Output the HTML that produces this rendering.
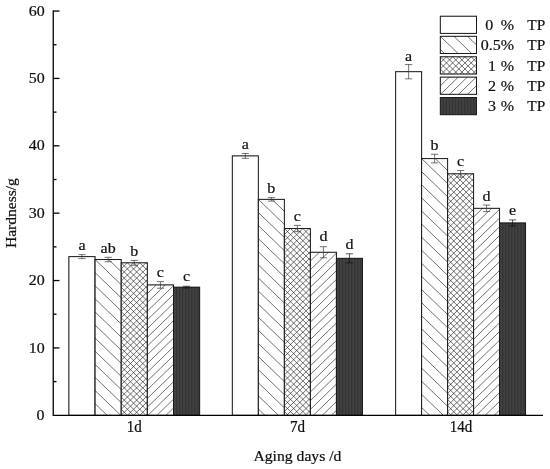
<!DOCTYPE html>
<html><head><meta charset="utf-8"><title>Hardness chart</title>
<style>html,body{margin:0;padding:0;background:#fff}svg{display:block}</style></head>
<body><svg width="550" height="469" viewBox="0 0 550 469">
<rect width="550" height="469" fill="#fff"/>
<g font-family="'Liberation Serif', serif" font-size="16" fill="#111" stroke="#111" stroke-width="0.22">
<rect x="68.90" y="256.63" width="26.15" height="158.67" fill="#fff"/>
<rect x="68.90" y="256.63" width="26.15" height="158.67" fill="none" stroke="#1a1a1a" stroke-width="1"/>
<path d="M81.98,254.61 V258.65 M78.38,254.61 H85.58 M78.38,258.65 H85.58" stroke="#3a3a3a" stroke-width="0.7" fill="none"/>
<text transform="translate(81.98,249.50) scale(1.04,1)" text-anchor="middle" font-size="15.4">a</text>
<rect x="95.05" y="259.53" width="26.15" height="155.77" fill="#fff"/>
<path d="M108.65,259.53L121.20,271.62M95.05,259.53L121.20,284.72M95.05,272.63L121.20,297.82M95.05,285.73L121.20,310.92M95.05,298.83L121.20,324.02M95.05,311.93L121.20,337.12M95.05,325.03L121.20,350.22M95.05,338.13L121.20,363.32M95.05,351.23L121.20,376.42M95.05,364.33L121.20,389.52M95.05,377.43L121.20,402.62M95.05,390.53L120.77,415.30M95.05,403.63L107.17,415.30" stroke="#222" stroke-width="0.65" fill="none"/>
<rect x="95.05" y="259.53" width="26.15" height="155.77" fill="none" stroke="#1a1a1a" stroke-width="1"/>
<path d="M108.13,257.31 V261.75 M104.53,257.31 H111.73 M104.53,261.75 H111.73" stroke="#3a3a3a" stroke-width="0.7" fill="none"/>
<text transform="translate(108.13,252.50) scale(1.04,1)" text-anchor="middle" font-size="15.4">ab</text>
<rect x="121.20" y="262.83" width="26.15" height="152.47" fill="#fff"/>
<path d="M145.92,262.83L147.35,264.24M139.74,262.83L147.35,270.34M133.56,262.83L147.35,276.44M127.38,262.83L147.35,282.54M121.20,262.83L147.35,288.64M121.20,268.93L147.35,294.74M121.20,275.03L147.35,300.84M121.20,281.13L147.35,306.94M121.20,287.23L147.35,313.04M121.20,293.33L147.35,319.14M121.20,299.43L147.35,325.24M121.20,305.53L147.35,331.34M121.20,311.63L147.35,337.44M121.20,317.73L147.35,343.54M121.20,323.83L147.35,349.64M121.20,329.93L147.35,355.74M121.20,336.03L147.35,361.84M121.20,342.13L147.35,367.94M121.20,348.23L147.35,374.04M121.20,354.33L147.35,380.14M121.20,360.43L147.35,386.24M121.20,366.53L147.35,392.34M121.20,372.63L147.35,398.44M121.20,378.73L147.35,404.54M121.20,384.83L147.35,410.64M121.20,390.93L145.89,415.30M121.20,397.03L139.71,415.30M121.20,403.13L133.53,415.30M121.20,409.23L127.35,415.30M121.20,268.93L127.38,262.83M121.20,275.03L133.56,262.83M121.20,281.13L139.74,262.83M121.20,287.23L145.92,262.83M121.20,293.33L147.35,267.52M121.20,299.43L147.35,273.62M121.20,305.53L147.35,279.72M121.20,311.63L147.35,285.82M121.20,317.73L147.35,291.92M121.20,323.83L147.35,298.02M121.20,329.93L147.35,304.12M121.20,336.03L147.35,310.22M121.20,342.13L147.35,316.32M121.20,348.23L147.35,322.42M121.20,354.33L147.35,328.52M121.20,360.43L147.35,334.62M121.20,366.53L147.35,340.72M121.20,372.63L147.35,346.82M121.20,378.73L147.35,352.92M121.20,384.83L147.35,359.02M121.20,390.93L147.35,365.12M121.20,397.03L147.35,371.22M121.20,403.13L147.35,377.32M121.20,409.23L147.35,383.42M121.23,415.30L147.35,389.52M127.41,415.30L147.35,395.62M133.59,415.30L147.35,401.72M139.77,415.30L147.35,407.82M145.95,415.30L147.35,413.92" stroke="#222" stroke-width="0.65" fill="none"/>
<rect x="121.20" y="262.83" width="26.15" height="152.47" fill="none" stroke="#1a1a1a" stroke-width="1"/>
<path d="M134.28,260.40 V265.26 M130.68,260.40 H137.88 M130.68,265.26 H137.88" stroke="#3a3a3a" stroke-width="0.7" fill="none"/>
<text transform="translate(134.28,256.00) scale(1.04,1)" text-anchor="middle" font-size="15.4">b</text>
<rect x="147.35" y="284.93" width="26.15" height="130.37" fill="#fff"/>
<path d="M147.35,293.66L156.35,284.93M147.35,302.39L165.35,284.93M147.35,311.12L173.50,285.75M147.35,319.85L173.50,294.48M147.35,328.58L173.50,303.21M147.35,337.31L173.50,311.94M147.35,346.04L173.50,320.67M147.35,354.77L173.50,329.40M147.35,363.50L173.50,338.13M147.35,372.23L173.50,346.86M147.35,380.96L173.50,355.59M147.35,389.69L173.50,364.32M147.35,398.42L173.50,373.05M147.35,407.15L173.50,381.78M147.95,415.30L173.50,390.51M156.95,415.30L173.50,399.24M165.95,415.30L173.50,407.97" stroke="#222" stroke-width="0.65" fill="none"/>
<rect x="147.35" y="284.93" width="26.15" height="130.37" fill="none" stroke="#1a1a1a" stroke-width="1"/>
<path d="M160.42,281.63 V288.23 M156.82,281.63 H164.02 M156.82,288.23 H164.02" stroke="#3a3a3a" stroke-width="0.7" fill="none"/>
<text transform="translate(160.42,276.80) scale(1.04,1)" text-anchor="middle" font-size="15.4">c</text>
<rect x="173.50" y="287.15" width="26.15" height="128.15" fill="#414141"/>
<path d="M176.55,287.15V415.30M179.60,287.15V415.30M182.65,287.15V415.30M185.70,287.15V415.30M188.75,287.15V415.30M191.80,287.15V415.30M194.85,287.15V415.30M197.90,287.15V415.30" stroke="#333" stroke-width="1.1" fill="none"/>
<rect x="173.50" y="287.15" width="26.15" height="128.15" fill="none" stroke="#1a1a1a" stroke-width="1"/>
<path d="M186.57,286.28 V288.03 M182.97,286.28 H190.17 M182.97,288.03 H190.17" stroke="#111" stroke-width="0.7" fill="none"/>
<text transform="translate(186.57,280.90) scale(1.04,1)" text-anchor="middle" font-size="15.4">c</text>
<text transform="translate(134.27,431.50) scale(0.96,1)" text-anchor="middle" font-size="15.7">1d</text>
<rect x="232.30" y="155.91" width="26.03" height="259.39" fill="#fff"/>
<rect x="232.30" y="155.91" width="26.03" height="259.39" fill="none" stroke="#1a1a1a" stroke-width="1"/>
<path d="M245.31,153.48 V158.33 M241.72,153.48 H248.91 M241.72,158.33 H248.91" stroke="#3a3a3a" stroke-width="0.7" fill="none"/>
<text transform="translate(245.31,149.30) scale(1.04,1)" text-anchor="middle" font-size="15.4">a</text>
<rect x="258.33" y="199.36" width="26.03" height="215.94" fill="#fff"/>
<path d="M271.93,199.36L284.36,211.34M258.33,199.36L284.36,224.44M258.33,212.46L284.36,237.54M258.33,225.56L284.36,250.64M258.33,238.66L284.36,263.74M258.33,251.76L284.36,276.84M258.33,264.86L284.36,289.94M258.33,277.96L284.36,303.04M258.33,291.06L284.36,316.14M258.33,304.16L284.36,329.24M258.33,317.26L284.36,342.34M258.33,330.36L284.36,355.44M258.33,343.46L284.36,368.54M258.33,356.56L284.36,381.64M258.33,369.66L284.36,394.74M258.33,382.76L284.36,407.84M258.33,395.86L278.51,415.30M258.33,408.96L264.91,415.30" stroke="#222" stroke-width="0.65" fill="none"/>
<rect x="258.33" y="199.36" width="26.03" height="215.94" fill="none" stroke="#1a1a1a" stroke-width="1"/>
<path d="M271.35,197.61 V201.11 M267.75,197.61 H274.95 M267.75,201.11 H274.95" stroke="#3a3a3a" stroke-width="0.7" fill="none"/>
<text transform="translate(271.35,193.10) scale(1.04,1)" text-anchor="middle" font-size="15.4">b</text>
<rect x="284.36" y="228.54" width="26.03" height="186.76" fill="#fff"/>
<path d="M309.08,228.54L310.39,229.83M302.90,228.54L310.39,235.93M296.72,228.54L310.39,242.03M290.54,228.54L310.39,248.13M284.36,228.54L310.39,254.23M284.36,234.64L310.39,260.33M284.36,240.74L310.39,266.43M284.36,246.84L310.39,272.53M284.36,252.94L310.39,278.63M284.36,259.04L310.39,284.73M284.36,265.14L310.39,290.83M284.36,271.24L310.39,296.93M284.36,277.34L310.39,303.03M284.36,283.44L310.39,309.13M284.36,289.54L310.39,315.23M284.36,295.64L310.39,321.33M284.36,301.74L310.39,327.43M284.36,307.84L310.39,333.53M284.36,313.94L310.39,339.63M284.36,320.04L310.39,345.73M284.36,326.14L310.39,351.83M284.36,332.24L310.39,357.93M284.36,338.34L310.39,364.03M284.36,344.44L310.39,370.13M284.36,350.54L310.39,376.23M284.36,356.64L310.39,382.33M284.36,362.74L310.39,388.43M284.36,368.84L310.39,394.53M284.36,374.94L310.39,400.63M284.36,381.04L310.39,406.73M284.36,387.14L310.39,412.83M284.36,393.24L306.71,415.30M284.36,399.34L300.53,415.30M284.36,405.44L294.35,415.30M284.36,411.54L288.17,415.30M284.36,234.64L290.54,228.54M284.36,240.74L296.72,228.54M284.36,246.84L302.90,228.54M284.36,252.94L309.08,228.54M284.36,259.04L310.39,233.34M284.36,265.14L310.39,239.44M284.36,271.24L310.39,245.54M284.36,277.34L310.39,251.64M284.36,283.44L310.39,257.74M284.36,289.54L310.39,263.84M284.36,295.64L310.39,269.94M284.36,301.74L310.39,276.04M284.36,307.84L310.39,282.14M284.36,313.94L310.39,288.24M284.36,320.04L310.39,294.34M284.36,326.14L310.39,300.44M284.36,332.24L310.39,306.54M284.36,338.34L310.39,312.64M284.36,344.44L310.39,318.74M284.36,350.54L310.39,324.84M284.36,356.64L310.39,330.94M284.36,362.74L310.39,337.04M284.36,368.84L310.39,343.14M284.36,374.94L310.39,349.24M284.36,381.04L310.39,355.34M284.36,387.14L310.39,361.44M284.36,393.24L310.39,367.54M284.36,399.34L310.39,373.64M284.36,405.44L310.39,379.74M284.36,411.54L310.39,385.84M286.73,415.30L310.39,391.94M292.91,415.30L310.39,398.04M299.09,415.30L310.39,404.14M305.27,415.30L310.39,410.24" stroke="#222" stroke-width="0.65" fill="none"/>
<rect x="284.36" y="228.54" width="26.03" height="186.76" fill="none" stroke="#1a1a1a" stroke-width="1"/>
<path d="M297.38,225.37 V231.70 M293.77,225.37 H300.98 M293.77,231.70 H300.98" stroke="#3a3a3a" stroke-width="0.7" fill="none"/>
<text transform="translate(297.38,220.50) scale(1.04,1)" text-anchor="middle" font-size="15.4">c</text>
<rect x="310.39" y="252.25" width="26.03" height="163.05" fill="#fff"/>
<path d="M310.39,260.98L319.39,252.25M310.39,269.71L328.39,252.25M310.39,278.44L336.42,253.19M310.39,287.17L336.42,261.92M310.39,295.90L336.42,270.65M310.39,304.63L336.42,279.38M310.39,313.36L336.42,288.11M310.39,322.09L336.42,296.84M310.39,330.82L336.42,305.57M310.39,339.55L336.42,314.30M310.39,348.28L336.42,323.03M310.39,357.01L336.42,331.76M310.39,365.74L336.42,340.49M310.39,374.47L336.42,349.22M310.39,383.20L336.42,357.95M310.39,391.93L336.42,366.68M310.39,400.66L336.42,375.41M310.39,409.39L336.42,384.14M313.30,415.30L336.42,392.87M322.30,415.30L336.42,401.60M331.30,415.30L336.42,410.33" stroke="#222" stroke-width="0.65" fill="none"/>
<rect x="310.39" y="252.25" width="26.03" height="163.05" fill="none" stroke="#1a1a1a" stroke-width="1"/>
<path d="M323.40,246.73 V257.78 M319.80,246.73 H327.00 M319.80,257.78 H327.00" stroke="#3a3a3a" stroke-width="0.7" fill="none"/>
<text transform="translate(323.40,241.00) scale(1.04,1)" text-anchor="middle" font-size="15.4">d</text>
<rect x="336.42" y="258.32" width="26.03" height="156.98" fill="#414141"/>
<path d="M339.47,258.32V415.30M342.52,258.32V415.30M345.57,258.32V415.30M348.62,258.32V415.30M351.67,258.32V415.30M354.72,258.32V415.30M357.77,258.32V415.30M360.82,258.32V415.30" stroke="#333" stroke-width="1.1" fill="none"/>
<rect x="336.42" y="258.32" width="26.03" height="156.98" fill="none" stroke="#1a1a1a" stroke-width="1"/>
<path d="M349.44,253.80 V262.83 M345.83,253.80 H353.04 M345.83,262.83 H353.04" stroke="#111" stroke-width="0.7" fill="none"/>
<text transform="translate(349.44,249.20) scale(1.04,1)" text-anchor="middle" font-size="15.4">d</text>
<text transform="translate(297.60,431.50) scale(0.96,1)" text-anchor="middle" font-size="15.7">7d</text>
<rect x="395.65" y="71.69" width="25.98" height="343.61" fill="#fff"/>
<rect x="395.65" y="71.69" width="25.98" height="343.61" fill="none" stroke="#1a1a1a" stroke-width="1"/>
<path d="M408.64,64.55 V78.83 M405.04,64.55 H412.24 M405.04,78.83 H412.24" stroke="#3a3a3a" stroke-width="0.7" fill="none"/>
<text transform="translate(408.64,60.50) scale(1.04,1)" text-anchor="middle" font-size="15.4">a</text>
<rect x="421.63" y="158.60" width="25.98" height="256.70" fill="#fff"/>
<path d="M435.23,158.60L447.61,170.53M421.63,158.60L447.61,183.63M421.63,171.70L447.61,196.73M421.63,184.80L447.61,209.83M421.63,197.90L447.61,222.93M421.63,211.00L447.61,236.03M421.63,224.10L447.61,249.13M421.63,237.20L447.61,262.23M421.63,250.30L447.61,275.33M421.63,263.40L447.61,288.43M421.63,276.50L447.61,301.53M421.63,289.60L447.61,314.63M421.63,302.70L447.61,327.73M421.63,315.80L447.61,340.83M421.63,328.90L447.61,353.93M421.63,342.00L447.61,367.03M421.63,355.10L447.61,380.13M421.63,368.20L447.61,393.23M421.63,381.30L447.61,406.33M421.63,394.40L443.33,415.30M421.63,407.50L429.73,415.30" stroke="#222" stroke-width="0.65" fill="none"/>
<rect x="421.63" y="158.60" width="25.98" height="256.70" fill="none" stroke="#1a1a1a" stroke-width="1"/>
<path d="M434.62,154.29 V162.91 M431.02,154.29 H438.22 M431.02,162.91 H438.22" stroke="#3a3a3a" stroke-width="0.7" fill="none"/>
<text transform="translate(434.62,149.80) scale(1.04,1)" text-anchor="middle" font-size="15.4">b</text>
<rect x="447.61" y="173.83" width="25.98" height="241.47" fill="#fff"/>
<path d="M472.33,173.83L473.59,175.07M466.15,173.83L473.59,181.17M459.97,173.83L473.59,187.27M453.79,173.83L473.59,193.37M447.61,173.83L473.59,199.47M447.61,179.93L473.59,205.57M447.61,186.03L473.59,211.67M447.61,192.13L473.59,217.77M447.61,198.23L473.59,223.87M447.61,204.33L473.59,229.97M447.61,210.43L473.59,236.07M447.61,216.53L473.59,242.17M447.61,222.63L473.59,248.27M447.61,228.73L473.59,254.37M447.61,234.83L473.59,260.47M447.61,240.93L473.59,266.57M447.61,247.03L473.59,272.67M447.61,253.13L473.59,278.77M447.61,259.23L473.59,284.87M447.61,265.33L473.59,290.97M447.61,271.43L473.59,297.07M447.61,277.53L473.59,303.17M447.61,283.63L473.59,309.27M447.61,289.73L473.59,315.37M447.61,295.83L473.59,321.47M447.61,301.93L473.59,327.57M447.61,308.03L473.59,333.67M447.61,314.13L473.59,339.77M447.61,320.23L473.59,345.87M447.61,326.33L473.59,351.97M447.61,332.43L473.59,358.07M447.61,338.53L473.59,364.17M447.61,344.63L473.59,370.27M447.61,350.73L473.59,376.37M447.61,356.83L473.59,382.47M447.61,362.93L473.59,388.57M447.61,369.03L473.59,394.67M447.61,375.13L473.59,400.77M447.61,381.23L473.59,406.87M447.61,387.33L473.59,412.97M447.61,393.43L469.77,415.30M447.61,399.53L463.59,415.30M447.61,405.63L457.41,415.30M447.61,411.73L451.23,415.30M447.61,179.93L453.79,173.83M447.61,186.03L459.97,173.83M447.61,192.13L466.15,173.83M447.61,198.23L472.33,173.83M447.61,204.33L473.59,178.68M447.61,210.43L473.59,184.78M447.61,216.53L473.59,190.88M447.61,222.63L473.59,196.98M447.61,228.73L473.59,203.08M447.61,234.83L473.59,209.18M447.61,240.93L473.59,215.28M447.61,247.03L473.59,221.38M447.61,253.13L473.59,227.48M447.61,259.23L473.59,233.58M447.61,265.33L473.59,239.68M447.61,271.43L473.59,245.78M447.61,277.53L473.59,251.88M447.61,283.63L473.59,257.98M447.61,289.73L473.59,264.08M447.61,295.83L473.59,270.18M447.61,301.93L473.59,276.28M447.61,308.03L473.59,282.38M447.61,314.13L473.59,288.48M447.61,320.23L473.59,294.58M447.61,326.33L473.59,300.68M447.61,332.43L473.59,306.78M447.61,338.53L473.59,312.88M447.61,344.63L473.59,318.98M447.61,350.73L473.59,325.08M447.61,356.83L473.59,331.18M447.61,362.93L473.59,337.28M447.61,369.03L473.59,343.38M447.61,375.13L473.59,349.48M447.61,381.23L473.59,355.58M447.61,387.33L473.59,361.68M447.61,393.43L473.59,367.78M447.61,399.53L473.59,373.88M447.61,405.63L473.59,379.98M447.61,411.73L473.59,386.08M450.17,415.30L473.59,392.18M456.35,415.30L473.59,398.28M462.53,415.30L473.59,404.38M468.71,415.30L473.59,410.48" stroke="#222" stroke-width="0.65" fill="none"/>
<rect x="447.61" y="173.83" width="25.98" height="241.47" fill="none" stroke="#1a1a1a" stroke-width="1"/>
<path d="M460.60,170.53 V177.13 M457.00,170.53 H464.20 M457.00,177.13 H464.20" stroke="#3a3a3a" stroke-width="0.7" fill="none"/>
<text transform="translate(460.60,165.50) scale(1.04,1)" text-anchor="middle" font-size="15.4">c</text>
<rect x="473.59" y="208.32" width="25.98" height="206.98" fill="#fff"/>
<path d="M473.59,217.05L482.59,208.32M473.59,225.78L491.59,208.32M473.59,234.51L499.57,209.31M473.59,243.24L499.57,218.04M473.59,251.97L499.57,226.77M473.59,260.70L499.57,235.50M473.59,269.43L499.57,244.23M473.59,278.16L499.57,252.96M473.59,286.89L499.57,261.69M473.59,295.62L499.57,270.42M473.59,304.35L499.57,279.15M473.59,313.08L499.57,287.88M473.59,321.81L499.57,296.61M473.59,330.54L499.57,305.34M473.59,339.27L499.57,314.07M473.59,348.00L499.57,322.80M473.59,356.73L499.57,331.53M473.59,365.46L499.57,340.26M473.59,374.19L499.57,348.99M473.59,382.92L499.57,357.72M473.59,391.65L499.57,366.45M473.59,400.38L499.57,375.18M473.59,409.11L499.57,383.91M476.21,415.30L499.57,392.64M485.21,415.30L499.57,401.37M494.21,415.30L499.57,410.10" stroke="#222" stroke-width="0.65" fill="none"/>
<rect x="473.59" y="208.32" width="25.98" height="206.98" fill="none" stroke="#1a1a1a" stroke-width="1"/>
<path d="M486.58,205.02 V211.63 M482.98,205.02 H490.18 M482.98,211.63 H490.18" stroke="#3a3a3a" stroke-width="0.7" fill="none"/>
<text transform="translate(486.58,200.50) scale(1.04,1)" text-anchor="middle" font-size="15.4">d</text>
<rect x="499.57" y="222.94" width="25.98" height="192.36" fill="#414141"/>
<path d="M502.62,222.94V415.30M505.67,222.94V415.30M508.72,222.94V415.30M511.77,222.94V415.30M514.82,222.94V415.30M517.87,222.94V415.30M520.92,222.94V415.30M523.97,222.94V415.30" stroke="#333" stroke-width="1.1" fill="none"/>
<rect x="499.57" y="222.94" width="25.98" height="192.36" fill="none" stroke="#1a1a1a" stroke-width="1"/>
<path d="M512.56,219.91 V225.98 M508.96,219.91 H516.16 M508.96,225.98 H516.16" stroke="#111" stroke-width="0.7" fill="none"/>
<text transform="translate(512.56,215.30) scale(1.04,1)" text-anchor="middle" font-size="15.4">e</text>
<text transform="translate(460.93,431.50) scale(0.96,1)" text-anchor="middle" font-size="15.7">14d</text>
<path d="M53.25,10.4 V415.3 H543.0" stroke="#000" stroke-width="1.3" fill="none"/>
<text transform="translate(44.60,419.95) scale(1.023,1)" text-anchor="end" font-size="15.6">0</text>
<path d="M53.0,381.61 h3.5" stroke="#000" stroke-width="1.3"/>
<path d="M53.0,347.93 h6.5" stroke="#000" stroke-width="1.3"/>
<text transform="translate(44.60,352.57) scale(1.023,1)" text-anchor="end" font-size="15.6">10</text>
<path d="M53.0,314.24 h3.5" stroke="#000" stroke-width="1.3"/>
<path d="M53.0,280.55 h6.5" stroke="#000" stroke-width="1.3"/>
<text transform="translate(44.60,285.20) scale(1.023,1)" text-anchor="end" font-size="15.6">20</text>
<path d="M53.0,246.86 h3.5" stroke="#000" stroke-width="1.3"/>
<path d="M53.0,213.18 h6.5" stroke="#000" stroke-width="1.3"/>
<text transform="translate(44.60,217.83) scale(1.023,1)" text-anchor="end" font-size="15.6">30</text>
<path d="M53.0,179.49 h3.5" stroke="#000" stroke-width="1.3"/>
<path d="M53.0,145.80 h6.5" stroke="#000" stroke-width="1.3"/>
<text transform="translate(44.60,150.45) scale(1.023,1)" text-anchor="end" font-size="15.6">40</text>
<path d="M53.0,112.11 h3.5" stroke="#000" stroke-width="1.3"/>
<path d="M53.0,78.43 h6.5" stroke="#000" stroke-width="1.3"/>
<text transform="translate(44.60,83.08) scale(1.023,1)" text-anchor="end" font-size="15.6">50</text>
<path d="M53.0,44.74 h3.5" stroke="#000" stroke-width="1.3"/>
<path d="M53.0,11.05 h6.5" stroke="#000" stroke-width="1.3"/>
<text transform="translate(44.60,15.70) scale(1.023,1)" text-anchor="end" font-size="15.6">60</text>
<text transform="translate(297.40,460.60) scale(1.04,1)" text-anchor="middle" font-size="15.1">Aging days /d</text>
<text transform="translate(16.10,213.10) rotate(-90) scale(1.03,1)" text-anchor="middle" font-size="15.1">Hardness/g</text>
<rect x="440.30" y="16.20" width="36.20" height="17.20" fill="#fff"/>
<rect x="440.30" y="16.20" width="36.20" height="17.20" fill="none" stroke="#1a1a1a" stroke-width="1"/>
<text transform="translate(493.30,30.40) scale(1.04,1)" text-anchor="end" font-size="15.4">0</text>
<text transform="translate(514.20,30.40) scale(1.04,1)" text-anchor="end" font-size="15.4">%</text>
<text transform="translate(527.30,30.40) scale(1.0,1)" text-anchor="start" font-size="15.4">TP</text>
<rect x="440.30" y="36.30" width="36.20" height="17.20" fill="#fff"/>
<path d="M467.50,36.30L476.50,44.97M453.90,36.30L471.76,53.50M440.30,36.30L458.16,53.50M440.30,49.40L444.56,53.50" stroke="#222" stroke-width="0.65" fill="none"/>
<rect x="440.30" y="36.30" width="36.20" height="17.20" fill="none" stroke="#1a1a1a" stroke-width="1"/>
<text transform="translate(514.20,50.40) scale(1.04,1)" text-anchor="end" font-size="15.4">0.5%</text>
<text transform="translate(527.30,50.40) scale(1.0,1)" text-anchor="start" font-size="15.4">TP</text>
<rect x="440.30" y="56.80" width="36.20" height="17.20" fill="#fff"/>
<path d="M471.20,56.80L476.50,62.03M465.02,56.80L476.50,68.13M458.84,56.80L476.27,74.00M452.66,56.80L470.09,74.00M446.48,56.80L463.91,74.00M440.30,56.80L457.73,74.00M440.30,62.90L451.55,74.00M440.30,69.00L445.37,74.00M440.30,62.90L446.48,56.80M440.30,69.00L452.66,56.80M441.41,74.00L458.84,56.80M447.59,74.00L465.02,56.80M453.77,74.00L471.20,56.80M459.95,74.00L476.50,57.67M466.13,74.00L476.50,63.77M472.31,74.00L476.50,69.87" stroke="#222" stroke-width="0.65" fill="none"/>
<rect x="440.30" y="56.80" width="36.20" height="17.20" fill="none" stroke="#1a1a1a" stroke-width="1"/>
<text transform="translate(495.90,70.50) scale(1.04,1)" text-anchor="end" font-size="15.4">1</text>
<text transform="translate(514.20,70.50) scale(1.04,1)" text-anchor="end" font-size="15.4">%</text>
<text transform="translate(527.30,70.50) scale(1.0,1)" text-anchor="start" font-size="15.4">TP</text>
<rect x="440.30" y="77.10" width="36.20" height="17.20" fill="#fff"/>
<path d="M440.30,85.83L449.30,77.10M440.57,94.30L458.30,77.10M449.57,94.30L467.30,77.10M458.57,94.30L476.30,77.10M467.57,94.30L476.50,85.64" stroke="#222" stroke-width="0.65" fill="none"/>
<rect x="440.30" y="77.10" width="36.20" height="17.20" fill="none" stroke="#1a1a1a" stroke-width="1"/>
<text transform="translate(495.90,90.90) scale(1.04,1)" text-anchor="end" font-size="15.4">2</text>
<text transform="translate(514.20,90.90) scale(1.04,1)" text-anchor="end" font-size="15.4">%</text>
<text transform="translate(527.30,90.90) scale(1.0,1)" text-anchor="start" font-size="15.4">TP</text>
<rect x="440.30" y="97.50" width="36.20" height="17.20" fill="#414141"/>
<path d="M443.35,97.50V114.70M446.40,97.50V114.70M449.45,97.50V114.70M452.50,97.50V114.70M455.55,97.50V114.70M458.60,97.50V114.70M461.65,97.50V114.70M464.70,97.50V114.70M467.75,97.50V114.70M470.80,97.50V114.70M473.85,97.50V114.70" stroke="#333" stroke-width="1.1" fill="none"/>
<rect x="440.30" y="97.50" width="36.20" height="17.20" fill="none" stroke="#1a1a1a" stroke-width="1"/>
<text transform="translate(495.90,111.30) scale(1.04,1)" text-anchor="end" font-size="15.4">3</text>
<text transform="translate(514.20,111.30) scale(1.04,1)" text-anchor="end" font-size="15.4">%</text>
<text transform="translate(527.30,111.30) scale(1.0,1)" text-anchor="start" font-size="15.4">TP</text>
</g></svg></body></html>
